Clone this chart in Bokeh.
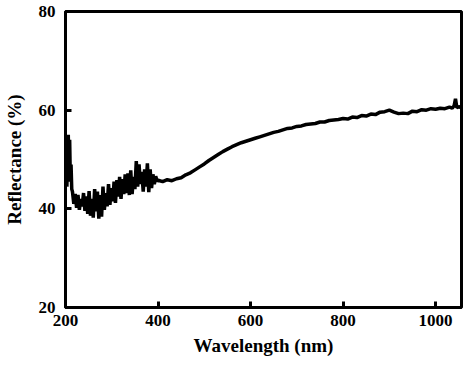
from bokeh.plotting import figure
from bokeh.embed import file_html
from bokeh.resources import INLINE
from bokeh.models import FixedTicker

# --- data ---
wl_edge = [203, 204.5, 206, 207.5, 209, 210.5, 212, 213.5]
refl_edge = [44.5, 52.0, 55.0, 47.0, 54.0, 45.5, 49.0, 44.0]

wl_noisy = list(range(215, 400, 3))
refl_noisy = [43.5, 41.0, 43.0, 40.2, 42.8, 39.8, 42.0, 40.5, 43.2, 39.6,
              42.5, 39.0, 43.6, 38.6, 42.0, 38.2, 44.0, 39.5, 43.5, 38.0,
              42.8, 38.4, 44.5, 39.8, 43.2, 40.5, 45.0, 40.8, 44.2, 41.5,
              45.5, 41.2, 45.8, 42.5, 46.5, 42.0, 46.0, 43.0, 47.0, 43.2,
              47.2, 42.8, 47.8, 43.0, 46.5, 44.0, 49.7, 44.5, 49.0, 45.0,
              47.5, 43.5, 48.0, 44.5, 49.2, 43.4, 48.0, 44.2, 47.0, 45.0,
              46.6, 45.6]

wl_smooth = list(range(400, 1031, 10)) + [1036, 1040, 1043, 1046, 1050, 1055]
refl_smooth = [45.8, 45.5, 45.9, 45.7, 46.1, 46.3, 46.9, 47.3, 47.9, 48.5,
               49.1, 49.8, 50.4, 51.0, 51.6, 52.1, 52.6, 53.0, 53.4, 53.7,
               54.0, 54.3, 54.6, 54.9, 55.2, 55.5, 55.7, 56.0, 56.3, 56.4,
               56.7, 56.8, 57.1, 57.2, 57.3, 57.6, 57.6, 57.9, 58.0, 58.1,
               58.3, 58.2, 58.6, 58.5, 58.9, 58.8, 59.2, 59.1, 59.6, 59.7,
               60.0, 59.6, 59.3, 59.4, 59.3, 59.8, 59.7, 60.1, 60.0, 60.3,
               60.2, 60.4, 60.3, 60.6,
               60.4, 60.9, 62.3, 60.5, 60.7, 60.5]

x_ticks = [200, 400, 600, 800, 1000]
y_ticks = [20, 40, 60, 80]

wl = wl_edge + wl_noisy + wl_smooth
refl = refl_edge + refl_noisy + refl_smooth

p = figure(width=464, height=358, output_backend="svg", toolbar_location=None,
           x_range=(200, 1056), y_range=(20, 80),
           min_border_left=59, min_border_right=3, min_border_top=11,
           min_border_bottom=10)

p.line(wl, refl, line_color="black", line_width=3.5)

p.grid.visible = False
p.outline_line_color = "black"
p.outline_line_width = 3

FONT = "Liberation Serif"
for ax in (p.xaxis[0], p.yaxis[0]):
    ax.axis_line_width = 3
    ax.axis_line_color = "black"
    ax.major_tick_in = 6
    ax.major_tick_out = 0
    ax.major_tick_line_width = 3
    ax.minor_tick_line_color = None
    ax.major_label_text_font = FONT
    ax.major_label_text_font_style = "bold"
    ax.major_label_text_font_size = "17px"
    ax.major_label_text_color = "black"
    ax.axis_label_text_font = FONT
    ax.axis_label_text_font_style = "bold"
    ax.axis_label_text_font_size = "19px"
    ax.axis_label_text_color = "black"

p.xaxis.ticker = FixedTicker(ticks=x_ticks)
p.yaxis.ticker = FixedTicker(ticks=y_ticks)
p.xaxis.axis_label = "Wavelength (nm)"
p.yaxis.axis_label = "Reflectance (%)"
p.xaxis.major_label_standoff = 7
p.yaxis.major_label_standoff = 10
p.xaxis.axis_label_standoff = 6
p.yaxis.axis_label_standoff = 11

open("out.html", "w").write(file_html(p, INLINE))
